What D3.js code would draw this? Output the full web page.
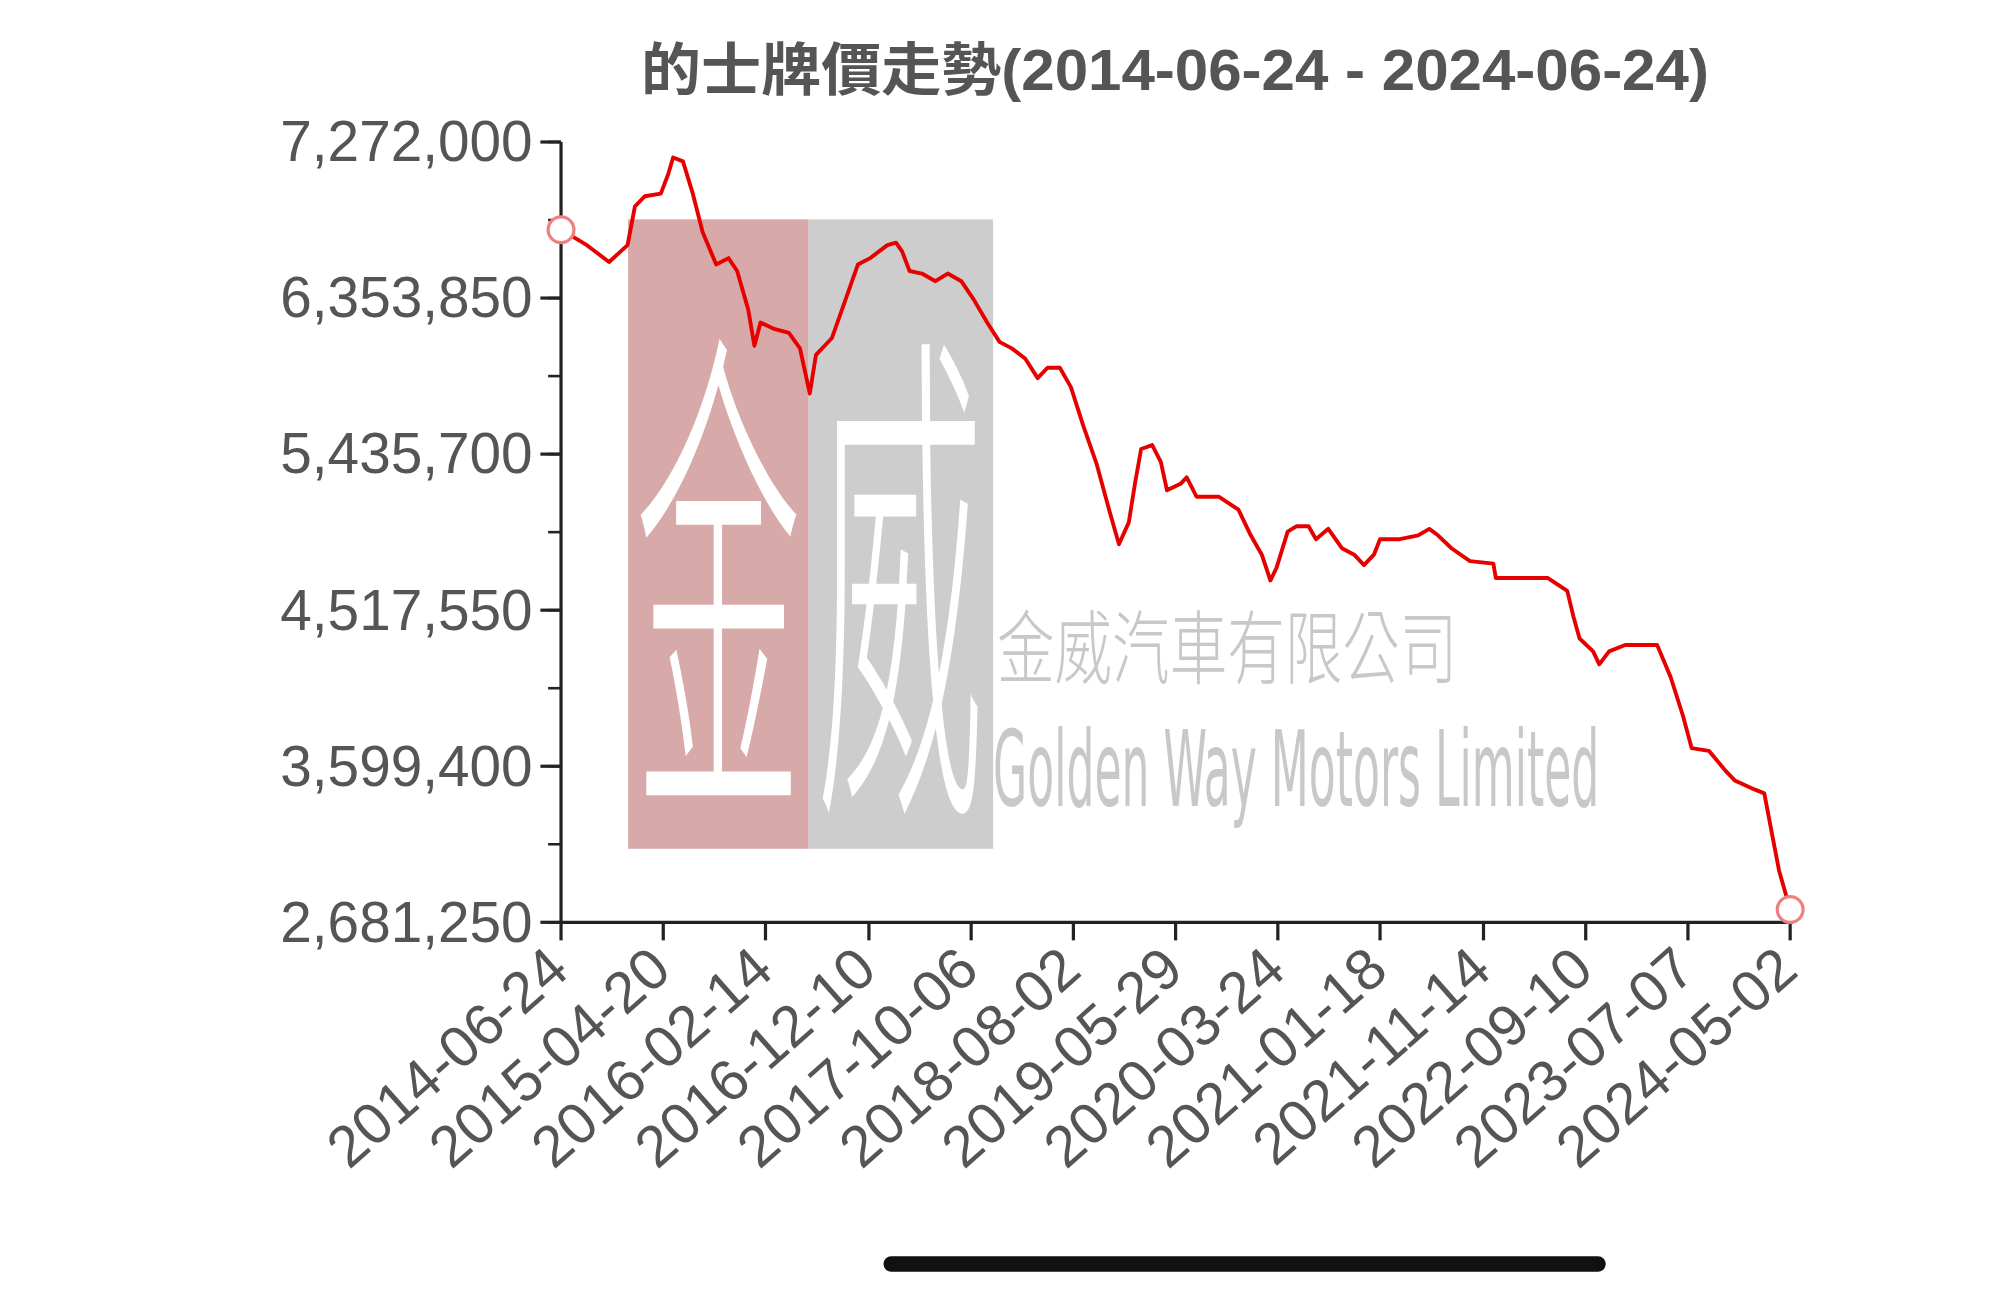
<!DOCTYPE html>
<html><head><meta charset="utf-8">
<script src="https://cdn.jsdelivr.net/npm/d3@7"></script>
<style>body{margin:0;background:#fff}svg{display:block}</style>
</head><body>
<svg id="c" width="2012" height="1290" viewBox="0 0 1560 1000"></svg>
<script>
const titleText = "的士牌價走勢(2014-06-24 - 2024-06-24)";
const yTickValues = [2681250, 3599400, 4517550, 5435700, 6353850, 7272000];
const tickLabels = ["2014-06-24","2015-04-20","2016-02-14","2016-12-10","2017-10-06","2018-08-02","2019-05-29","2020-03-24","2021-01-18","2021-11-14","2022-09-10","2023-07-07","2024-05-02"];
const tickYears = [2014.48,2015.31,2016.14,2016.98,2017.81,2018.64,2019.47,2020.30,2021.13,2021.97,2022.80,2023.63,2024.46];
const years = [2014.48,2014.69,2014.87,2015.02,2015.08,2015.16,2015.29,2015.35,2015.39,2015.47,2015.55,2015.63,2015.74,2015.84,2015.91,2016.00,2016.05,2016.10,2016.21,2016.33,2016.42,2016.50,2016.55,2016.68,2016.78,2016.89,2016.99,2017.13,2017.20,2017.25,2017.31,2017.41,2017.52,2017.62,2017.73,2017.83,2017.94,2018.04,2018.14,2018.25,2018.35,2018.43,2018.53,2018.62,2018.72,2018.83,2018.93,2019.01,2019.09,2019.14,2019.19,2019.28,2019.35,2019.40,2019.51,2019.56,2019.64,2019.82,2019.98,2020.08,2020.17,2020.24,2020.29,2020.38,2020.45,2020.55,2020.61,2020.71,2020.82,2020.92,2021.00,2021.08,2021.13,2021.29,2021.44,2021.53,2021.60,2021.71,2021.86,2022.05,2022.07,2022.49,2022.65,2022.70,2022.75,2022.86,2022.91,2022.99,2023.12,2023.38,2023.49,2023.59,2023.66,2023.80,2023.94,2024.01,2024.17,2024.25,2024.32,2024.37,2024.46];
const prices = [6756,6665,6566,6665,6893,6953,6968,7082,7181,7158,6968,6741,6551,6589,6513,6286,6073,6210,6172,6149,6058,5792,6020,6119,6324,6551,6589,6665,6680,6627,6513,6498,6453,6498,6453,6346,6210,6096,6058,5997,5883,5944,5944,5830,5603,5375,5109,4905,5034,5261,5466,5489,5390,5223,5261,5299,5185,5185,5109,4958,4844,4692,4768,4980,5011,5011,4935,4996,4882,4844,4783,4844,4935,4935,4958,4996,4958,4882,4806,4791,4707,4707,4631,4480,4351,4275,4199,4275,4313,4313,4123,3895,3706,3690,3569,3516,3463,3440,3174,2985,2757].map(v=>v*1000);

const svg = d3.select("#c");
const x = d3.scaleLinear().domain([2014.48, 2024.46]).range([435, 1388]);
const y = d3.scaleLinear().domain([2681250, 7272000]).range([715, 110]);
const grey = "#555";

// watermark
const wm = svg.append("g");
wm.append("rect").attr("x",487).attr("y",170).attr("width",140).attr("height",488).attr("fill","#d8a9a9");
wm.append("rect").attr("x",627).attr("y",170).attr("width",143).attr("height",488).attr("fill","#cdcdcd");
wm.append("text").attr("x",557).attr("y",600).attr("text-anchor","middle").attr("font-size",400).attr("font-family","Noto Sans CJK TC").attr("font-weight",300).attr("fill","#fff").attr("textLength",130).attr("lengthAdjust","spacingAndGlyphs").text("金");
wm.append("text").attr("x",698).attr("y",600).attr("text-anchor","middle").attr("font-size",400).attr("font-family","Noto Sans CJK TC").attr("font-weight",300).attr("fill","#fff").attr("textLength",130).attr("lengthAdjust","spacingAndGlyphs").text("威");
wm.append("text").attr("x",773).attr("y",525).attr("font-size",62).attr("font-family","Noto Sans CJK TC").attr("font-weight",300).attr("fill","#c8c8c8").attr("textLength",357).attr("lengthAdjust","spacingAndGlyphs").text("金威汽車有限公司");
wm.append("text").attr("x",770).attr("y",625).attr("font-size",82).attr("font-family","Liberation Sans Narrow, DejaVu Sans Condensed, sans-serif").attr("fill","#c8c8c8").attr("textLength",470).attr("lengthAdjust","spacingAndGlyphs").text("Golden Way Motors Limited");

// title
svg.append("text").attr("x",911).attr("y",70).attr("text-anchor","middle").attr("font-size",44).attr("font-weight","bold").attr("font-family","Liberation Sans, Noto Sans CJK TC, sans-serif").attr("fill",grey).attr("textLength",828).attr("lengthAdjust","spacingAndGlyphs").text(titleText);

// y axis
const minor = d3.range(yTickValues.length*2-1).map(i=>2681250+i*459075);
const yg = svg.append("g").attr("transform","translate(435,0)");
yg.append("line").attr("y1",110).attr("y2",715).attr("stroke","#222").attr("stroke-width",2.5);
yg.selectAll(".mt").data(minor).join("line").attr("x1",-10).attr("x2",0).attr("y1",d=>y(d)).attr("y2",d=>y(d)).attr("stroke","#222").attr("stroke-width",2);
yg.selectAll(".mj").data(yTickValues).join("line").attr("x1",-16).attr("x2",0).attr("y1",d=>y(d)).attr("y2",d=>y(d)).attr("stroke","#222").attr("stroke-width",2.5);
yg.selectAll("text").data(yTickValues).join("text").attr("x",-22).attr("y",d=>y(d)+15).attr("text-anchor","end").attr("font-size",44).attr("font-family","Liberation Sans, sans-serif").attr("fill",grey).text(d=>d3.format(",")(d));

// x axis
const xg = svg.append("g").attr("transform","translate(0,715)");
xg.append("line").attr("x1",435).attr("x2",1390).attr("stroke","#222").attr("stroke-width",2.5);
xg.selectAll("line.t").data(tickYears).join("line").attr("class","t").attr("x1",d=>x(d)).attr("x2",d=>x(d)).attr("y1",0).attr("y2",14).attr("stroke","#222").attr("stroke-width",2.5);
xg.selectAll("text").data(tickYears).join("text").attr("transform",d=>`translate(${x(d)+8},40) rotate(-41.5)`).attr("text-anchor","end").attr("font-size",45).attr("font-family","Liberation Sans, sans-serif").attr("fill",grey).text((d,i)=>tickLabels[i]);

// line
const pts = years.map((t,i)=>[t,prices[i]]);
svg.append("path").datum(pts).attr("fill","none").attr("stroke","#e60000").attr("stroke-width",3).attr("stroke-linejoin","round")
  .attr("d", d3.line().x(d=>x(d[0])).y(d=>y(d[1])));
svg.selectAll("circle").data([pts[0], pts[pts.length-1]]).join("circle").attr("cx",d=>x(d[0])).attr("cy",d=>y(d[1])).attr("r",10).attr("fill","#fff").attr("stroke","#f08080").attr("stroke-width",2.5);

// home indicator
svg.append("rect").attr("x",685).attr("y",974).attr("width",560).attr("height",12).attr("rx",6).attr("fill","#111");
</script>
</body></html>
